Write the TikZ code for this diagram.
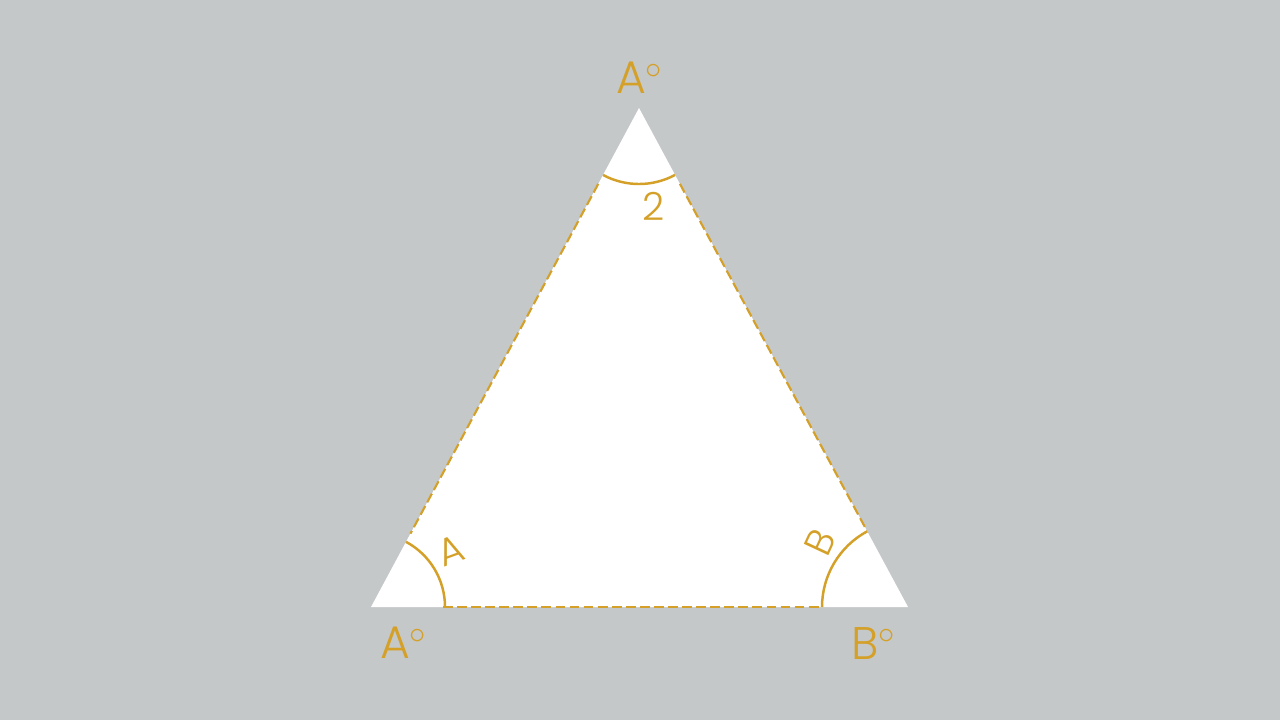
\documentclass[tikz,border=0pt]{standalone}
\usepackage{fontspec}
\setmainfont{Poppins Light}
\usetikzlibrary{positioning, calc}
\definecolor{bgrey}{RGB}{197,200,201}
\definecolor{gold}{RGB}{212,160,40}

\tikzset{
  edgeline/.style={gold, line width=0.6pt, dash pattern=on 2.8pt off 1.2pt},
  anglearc/.style={gold, line width=0.7pt},
  vlabel/.style={gold, font=\fontsize{13}{13}\selectfont, inner sep=0pt},
  alabel/.style={gold, font=\fontsize{11}{11}\selectfont, inner sep=0pt}
}

\begin{document}
\begin{tikzpicture}[x=0.01cm, y=-0.01cm]
            \fill[bgrey] (0,0) rectangle (1280,720);
            \useasboundingbox (0,0) rectangle (1280,720);

            % vertices
            \coordinate (T) at (639,108);
            \coordinate (L) at (371,607);
            \coordinate (R) at (908,607);
            \fill[white] (T) -- (L) -- (R) -- cycle;

            % dashed sides between the angle marks
            \draw[edgeline] ($(T)!0.152!(L)$) -- ($(T)!0.853!(L)$);
            \draw[edgeline] ($(L)!0.134!(R)$) -- ($(L)!0.84!(R)$);
            \draw[edgeline] ($(T)!0.152!(R)$) -- ($(T)!0.84!(R)$);

            % angle marks
            \draw[anglearc] (T) ++(61.7:76) arc (61.7:118.2:76);
            \draw[anglearc] (L) ++(298.2:74) arc (298.2:360:74);
            \draw[anglearc] (R) ++(180:86) arc (180:241.7:86);

            \node[vlabel] (topname) at (640,78) {A$^{\circ}$};
            \node[vlabel] (leftname) at (404,643) {A$^{\circ}$};
            \node[vlabel] (rightname) at (874,643) {B$^{\circ}$};
            \node[alabel] (topangle) at (654,206) {2};
            \node[alabel, rotate=20] (leftangle) at (451,551) {A};
            \node[alabel, rotate=65] (rightangle) at (820,542) {B};
        \end{tikzpicture}
\end{document}
